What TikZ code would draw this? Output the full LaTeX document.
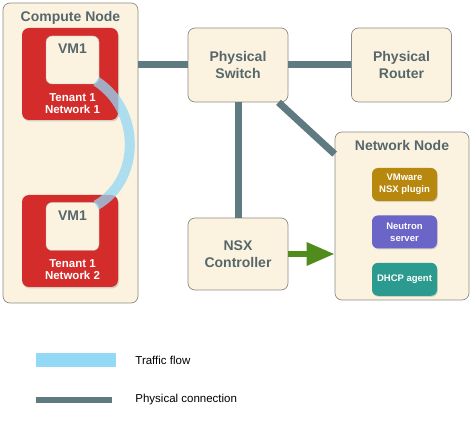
\documentclass[tikz,border=0pt]{standalone}
\usepackage{fontspec}
\setmainfont{Liberation Sans}
\usepackage{xcolor}
\usepackage{tikz}
\usetikzlibrary{positioning,arrows.meta,shadows}

\definecolor{boxfill}{HTML}{FBF3E0}
\definecolor{boxline}{HTML}{8C8C88}
\definecolor{labelgray}{HTML}{56676C}
\definecolor{tenantred}{HTML}{D42B2B}
\definecolor{linkgray}{HTML}{5F7A80}
\definecolor{flowblue}{HTML}{93D8F5}
\definecolor{nsxgold}{HTML}{B8870E}
\definecolor{neutronpurple}{HTML}{6A65C6}
\definecolor{dhcpteal}{HTML}{2B9A8F}
\definecolor{arrowgreen}{HTML}{4F8C1B}

\tikzset{
  hostbox/.style={draw=boxline, fill=boxfill, rounded corners=7pt, line width=0.7pt},
  devbox/.style={hostbox, minimum width=100pt, minimum height=74pt, align=center,
    text=labelgray, font=\bfseries\fontsize{14}{16.5}\selectfont},
  titletext/.style={text=labelgray, font=\bfseries\fontsize{14}{16}\selectfont, inner sep=1pt},
  tenantbox/.style={fill=tenantred, rounded corners=7pt, minimum width=96pt, minimum height=92pt,
    drop shadow={shadow xshift=1pt, shadow yshift=-1.5pt, opacity=0.3}},
  vmbox/.style={draw=boxline!60, fill=boxfill, rounded corners=6pt, minimum width=53pt, minimum height=48pt},
  vmtext/.style={text=labelgray, font=\bfseries\fontsize{14}{16}\selectfont, inner sep=1pt},
  tenanttext/.style={text=white, align=center, font=\bfseries\fontsize{11.5}{12}\selectfont, inner sep=1pt},
  svcbox/.style={rounded corners=6pt, minimum width=65pt, minimum height=33pt, text=white, align=center,
    font=\bfseries\fontsize{9.5}{12}\selectfont,
    drop shadow={shadow xshift=0.8pt, shadow yshift=-1pt, opacity=0.3}},
  link/.style={linkgray, line width=7pt},
  flow/.style={flowblue, line width=10pt, opacity=0.75},
  keytext/.style={font=\fontsize{11.5}{14}\selectfont, inner sep=0pt}
}

\begin{document}
\begin{tikzpicture}[x=1pt, y=-1pt]
\useasboundingbox (0,0) rectangle (474,430);

% compute node with two tenant networks
\node[hostbox, minimum width=135pt, minimum height=300pt] (compute) at (70.5,153) {};
\node[titletext, below=8pt of compute.north] (computetitle) {Compute Node};

\node[tenantbox] (tenant1) at (70,74) {};
\node[vmbox] (vm1) at (72.5,60) {};
\node[vmtext, below=7pt of vm1.north] (vm1label) {VM1};
\node[tenanttext, below=8pt of vm1.south] (tenant1label) {Tenant 1\\Network 1};

\node[tenantbox] (tenant2) at (70,241) {};
\node[vmbox] (vm2) at (72.5,226.5) {};
\node[vmtext, below=7pt of vm2.north] (vm2label) {VM1};
\node[tenanttext, below=8pt of vm2.south] (tenant2label) {Tenant 1\\Network 2};

\draw[flow] ([shift={(-3,-3)}]vm1.south east) .. controls (141,110) and (141,180) .. ([shift={(-3,3)}]vm2.north east);

% physical devices
\node[devbox] (switch) at (238,65) {Physical\\Switch};
\node[devbox] (router) at (401.5,65) {Physical\\Router};
\node[devbox, minimum height=72pt] (nsx) at (238,254) {NSX\\Controller};

% network node
\node[hostbox, minimum width=134pt, minimum height=168pt] (netnode) at (402,216) {};
\node[titletext, below=8pt of netnode.north] (nettitle) {Network Node};
\node[svcbox, fill=nsxgold] (plugin) at (404.5,184.5) {VMware\\NSX plugin};
\node[svcbox, fill=neutronpurple, below=14pt of plugin] (neutron) {Neutron\\server};
\node[svcbox, fill=dhcpteal, below=14pt of neutron] (dhcp) {DHCP agent};

% physical connections
\draw[link] (compute.east |- switch) -- (switch);
\draw[link] (switch) -- (router);
\draw[link] (switch) -- (nsx);
\draw[link] (switch) -- (netnode);

\draw[arrowgreen, line width=6pt, -{Triangle[length=28pt 0, width=22pt 0]}] (nsx) -- (nsx -| netnode.west);

% legend
\node[fill=flowblue, minimum width=80pt, minimum height=13pt, inner sep=0pt] (flowkey) at (76,360) {};
\node[keytext, right=19pt of flowkey] (flowtext) {Traffic flow};
\node[fill=linkgray, minimum width=76pt, minimum height=6pt, inner sep=0pt] (linkkey) at (74,400) {};
\node[keytext, right=23pt of linkkey] (linktext) {Physical connection};

\end{tikzpicture}
\end{document}
